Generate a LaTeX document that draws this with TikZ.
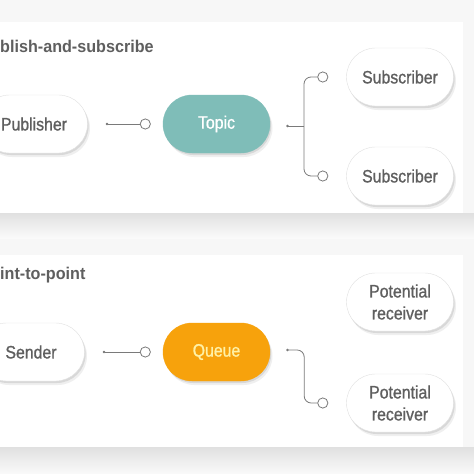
\documentclass[tikz,border=0pt]{standalone}
\usepackage{fontspec}
\setmainfont[FakeStretch=0.88,FakeBold=1]{Liberation Sans}
\newfontfamily\titlefont[FakeStretch=0.95]{Liberation Sans}
\usetikzlibrary{arrows.meta,shadows}

\definecolor{txtgray}{HTML}{5F5F5F}
\definecolor{linegray}{HTML}{7A7A7A}
\definecolor{topicteal}{HTML}{7FBDB8}
\definecolor{queueorange}{HTML}{F7A20C}
\definecolor{queuetext}{HTML}{FFF1A6}

\tikzstyle{pill}=[rectangle,rounded corners=29pt,minimum width=107pt,minimum height=58pt,align=center,
  font=\fontsize{18}{22}\selectfont,text=txtgray,fill=white,draw=black!12,line width=0.4pt,
  drop shadow={opacity=0.12,shadow xshift=2.5pt,shadow yshift=-4pt},
  drop shadow={opacity=0.2,shadow xshift=1.2pt,shadow yshift=-2pt}]
\tikzstyle{title}=[anchor=base west,inner sep=0pt,font=\titlefont\bfseries\fontsize{17}{20}\selectfont,text=txtgray]
\tikzstyle{wire}=[draw=linegray,line width=0.8pt]
\tikzstyle{link}=[wire,{Circle[length=2.6pt,width=2.6pt]}-{Circle[open,length=11pt,width=11pt]}]
\tikzstyle{branch}=[wire,rounded corners=7pt,-{Circle[open,length=11pt,width=11pt]},shorten >=18pt]

\begin{document}
\begin{tikzpicture}[x=1pt,y=-1pt]
	\useasboundingbox (0,0) rectangle (474,474);
	\clip (0,0) rectangle (474,474);
	% panels
	\fill[black!3] (0,0) rectangle (474,474);
	\fill[white] (0,22) rectangle (463,213);
	\fill[white] (0,255) rectangle (463,447);
	\shade[top color=black!12,bottom color=black!2] (0,213) rectangle (474,238);
	\shade[top color=black!12,bottom color=black!2] (0,447) rectangle (474,474);

	% Publish-and-subscribe
	\node[title] (pstitle) at (0,52) {blish-and-subscribe};
	\node[pill] (pub) at (34,124) {Publisher};
	\node[pill,fill=topicteal,draw=topicteal,text=white] (topic) at (216.5,124) {Topic};
	\node[pill] (sub1) at (400,77) {Subscriber};
	\node[pill] (sub2) at (400,176) {Subscriber};
	\coordinate (fork) at (304,126);

	\draw[link,shorten <=18pt,shorten >=12pt] (pub) -- (topic);
	\draw[wire,{Circle[length=2.6pt,width=2.6pt]}-,shorten <=16pt] (topic.east |- fork) -- (fork);
	\draw[branch] (fork) |- (sub1.west);
	\draw[branch] (fork) |- (sub2.west);

	% Point-to-point
	\node[title] (pptitle) at (0,279) {int-to-point};
	\node[pill] (send) at (31,352) {Sender};
	\node[pill,fill=queueorange,draw=queueorange,text=queuetext] (queue) at (216.5,352) {Queue};
	\node[pill] (rec1) at (400,302) {Potential\\receiver};
	\node[pill] (rec2) at (400,403) {Potential\\receiver};

	\draw[link,shorten <=18pt,shorten >=12pt] (send) -- (queue);
	\draw[branch,{Circle[length=2.6pt,width=2.6pt]}-{Circle[open,length=11pt,width=11pt]},shorten <=16pt]
		([yshift=2pt]queue.east) -- ++(34,0) |- (rec2.west);
\end{tikzpicture}
\end{document}
